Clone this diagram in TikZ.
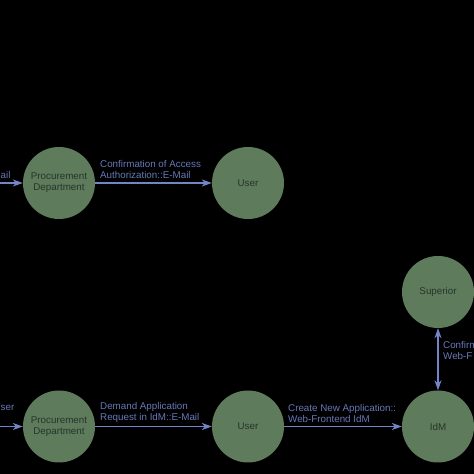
\documentclass[tikz,border=0pt]{standalone}
\usepackage{fontspec}
\setmainfont{Liberation Sans}
\usetikzlibrary{arrows.meta}
\definecolor{bgc}{HTML}{000000}
\definecolor{nodefill}{HTML}{5E7B5C}
\definecolor{nodetext}{HTML}{25352A}
\definecolor{edgec}{HTML}{7484C8}
\definecolor{labelc}{HTML}{6878B8}
\tikzset{
  state/.style={circle, fill=nodefill, draw=none, minimum size=72pt, inner sep=0pt,
    text=nodetext, font=\fontsize{9.8}{11}\selectfont, align=center},
  flow/.style={draw=edgec, line width=1.1pt, -{Stealth[length=10pt,width=7pt,inset=3pt]}},
  biflow/.style={draw=edgec, line width=1.1pt, {Stealth[length=10pt,width=7pt,inset=3pt]}-{Stealth[length=10pt,width=7pt,inset=3pt]}},
  elabel/.style={text=labelc, font=\fontsize{9.8}{11.5}\selectfont, align=left, inner sep=0pt}
}
\begin{document}
\begin{tikzpicture}[x=1pt,y=1pt]
\useasboundingbox (0,0) rectangle (474,474);
\fill[bgc] (0,0) rectangle (474,474);
\clip (0,0) rectangle (474,474);
% nodes
\node[state] (pd1) at (59,291) {Procurement\\Department};
\node[state] (user1) at (248,291) {User};
\node[state] (pd2) at (59,47.5) {Procurement\\Department};
\node[state] (user2) at (248,47.5) {User};
\node[state] (idm) at (438,47.5) {IdM};
\node[state] (sup) at (438,182) {Superior};
\coordinate (in1) at (0,291);
\coordinate (in2) at (0,47.5);
% edges
\draw[flow] (in1) -- (pd1);
\draw[flow] (pd1) -- (user1);
\draw[flow] (in2) -- (pd2);
\draw[flow] (pd2) -- (user2);
\draw[flow] (user2) -- (idm);
\draw[biflow] (sup) -- (idm);
% labels
\node[elabel, anchor=south west] (l0) at (0.5,295) {ail};
\node[elabel, anchor=south west] (l1) at (100,295) {Confirmation of Access\\Authorization::E-Mail};
\node[elabel, anchor=south west] (l2) at (0.5,63) {ser};
\node[elabel, anchor=south west] (l3) at (100,51) {Demand Application\\Request in IdM::E-Mail};
\node[elabel, anchor=south west] (l4) at (288,51) {Create New Application::\\Web-Frontend IdM};
\node[elabel, anchor=west] (l5) at (443,123.5) {Confirm\\Web-F};
\end{tikzpicture}
\end{document}
